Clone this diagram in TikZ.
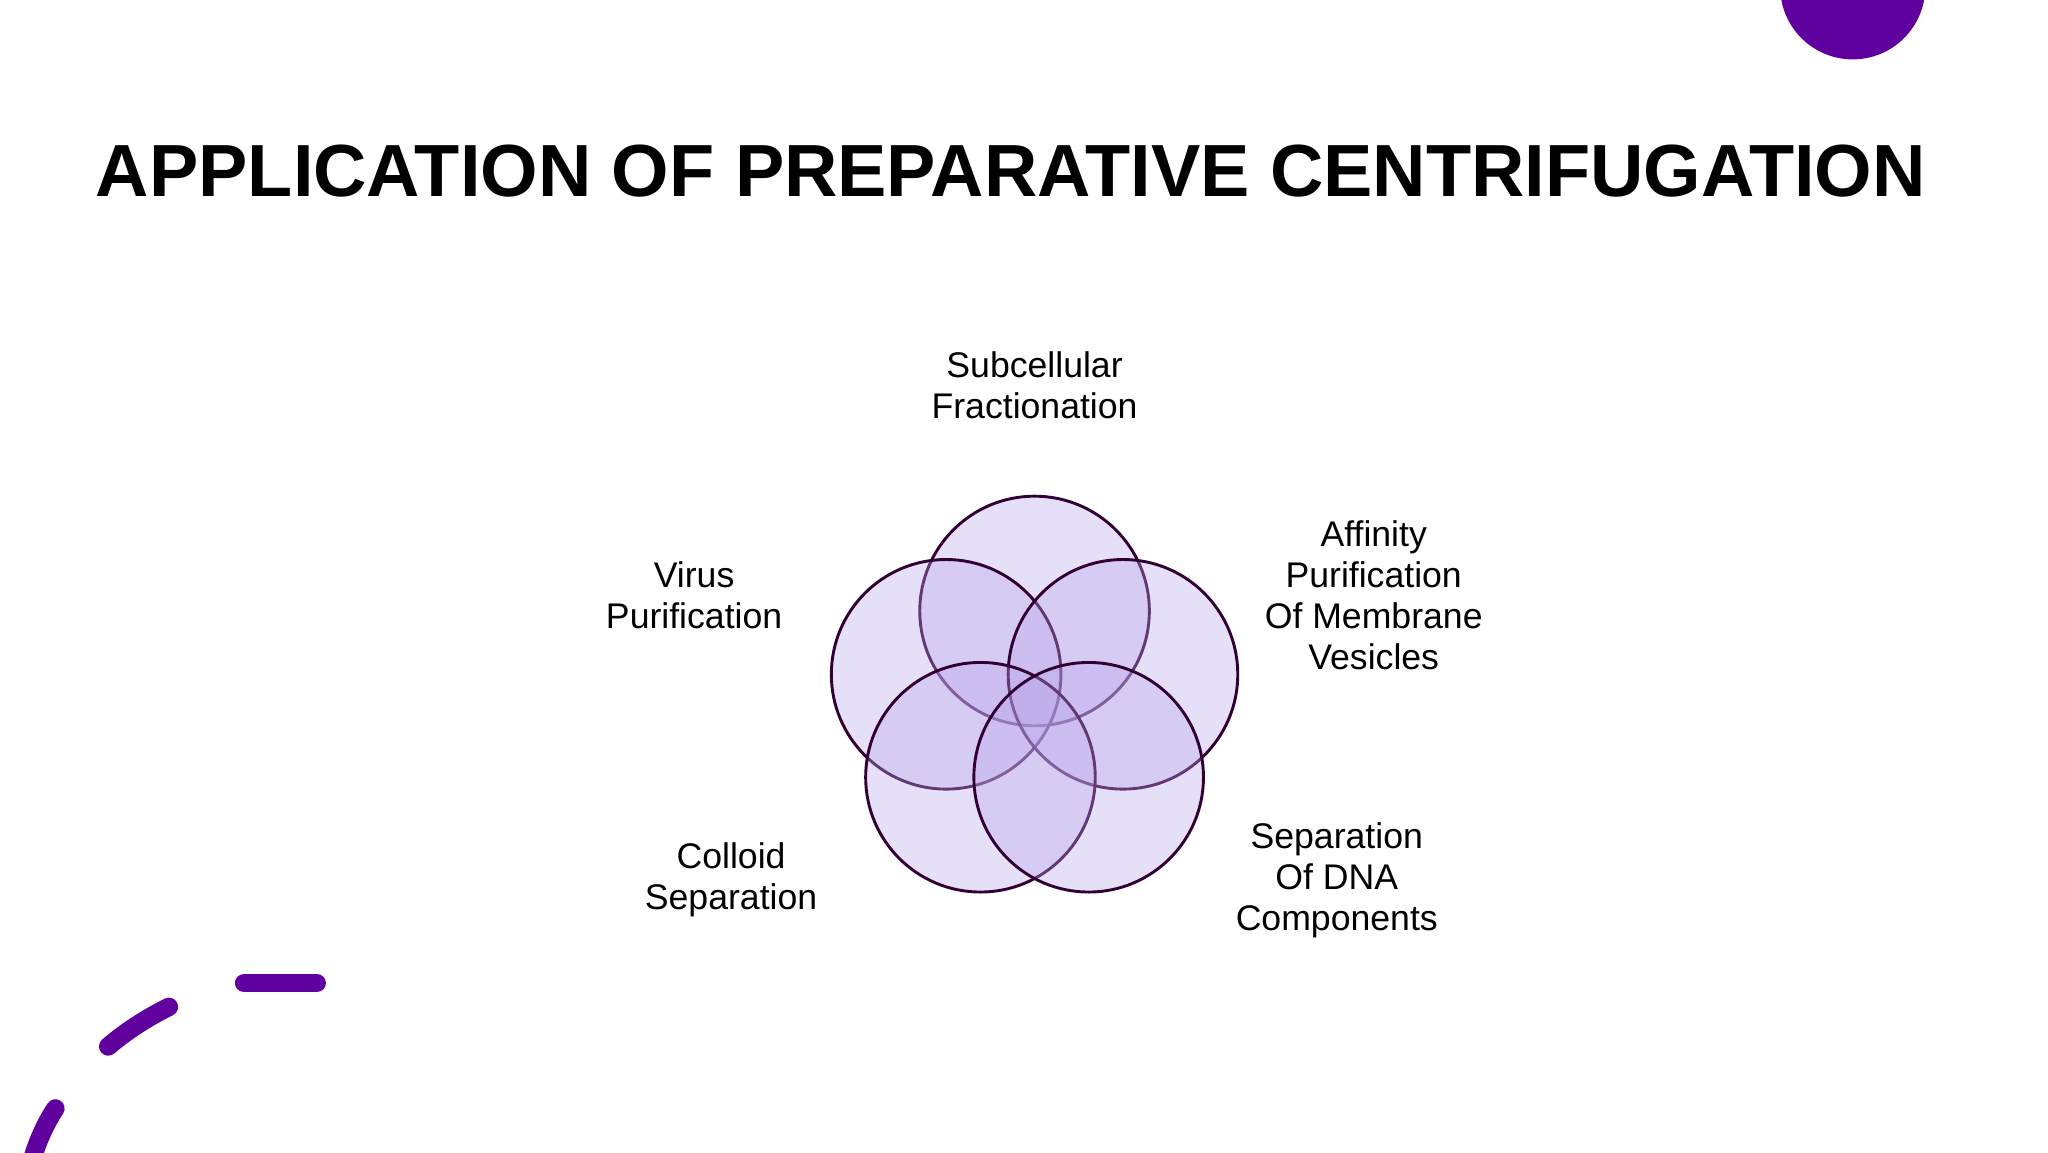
\documentclass[tikz,border=0pt]{standalone}
\usepackage{fontspec}
\setmainfont{Liberation Sans}
\begin{document}
\begin{tikzpicture}[x=1pt,y=-1pt,
  ring/.style={circle,minimum size=174pt,draw=black!60!violet,line width=2.2pt,fill=violet!45!blue!35,fill opacity=0.35},
  lbl/.style={align=center,font=\fontsize{27}{31}\selectfont,text=black},
  deco/.style={line width=14pt,line cap=round,draw=violet!75!blue}]
\useasboundingbox (0,0) rectangle (1552,873);
\fill[white] (0,0) rectangle (1552,873);
\fill[violet!75!blue] (1404,-10) circle (55);
\draw[deco] (240,745) -- (185,745);
\draw[deco] (128,763) .. controls (110,772) and (95,782) .. (82,793);
\draw[deco] (42,840) .. controls (34,852) and (28,866) .. (24,880);
\node[font=\bfseries\fontsize{56}{60}\selectfont] (title) at (766,130) {APPLICATION OF PREPARATIVE CENTRIFUGATION};
\node[ring] (c1) at (784,463) {};
\node[ring] (c2) at (717,511) {};
\node[ring] (c3) at (851,511) {};
\node[ring] (c4) at (743,589) {};
\node[ring] (c5) at (825,589) {};
\node[lbl] (l1) at (784,292) {Subcellular\\Fractionation};
\node[lbl] (l2) at (526,451) {Virus\\Purification};
\node[lbl] (l3) at (1041,451) {Affinity\\Purification\\Of Membrane\\Vesicles};
\node[lbl] (l4) at (554,667) {Colloid\\Separation};
\node[lbl] (l5) at (1013,667) {Separation\\Of DNA\\Components};
\end{tikzpicture}
\end{document}
